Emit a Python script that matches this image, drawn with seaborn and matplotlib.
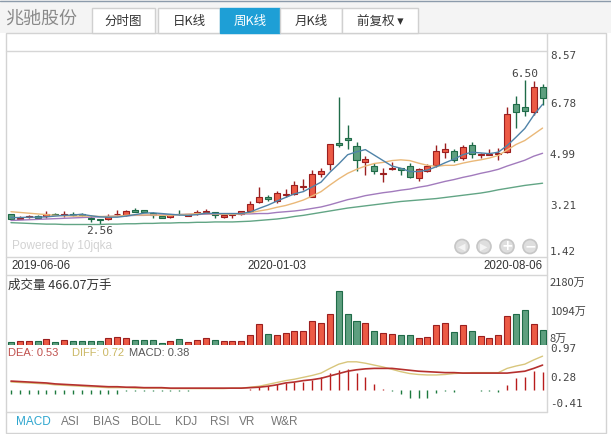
import numpy as np
import pandas as pd
import seaborn as sns
import matplotlib.pyplot as plt
from matplotlib.patches import Rectangle, Circle

sns.set_style("white")
plt.rcParams['font.family'] = ['Noto Sans CJK SC', 'DejaVu Sans']
plt.rcParams['axes.unicode_minus'] = False

# ---- weekly K-line data (前复权) ----
dates = ["2019-06-06", "2020-01-03", "2020-08-06"]
date_pos = [0, 30, 60]

opens = [2.83, 2.70, 2.75, 2.78, 2.78, 2.85, 2.80, 2.85, 2.85, 2.74, 2.69, 2.71, 2.83, 2.81, 2.94, 2.94,
         2.87, 2.77, 2.76, 2.84, 2.79, 2.83, 2.88, 2.90, 2.76, 2.80, 2.83, 2.92, 3.17, 3.29, 3.20, 3.35,
         3.38, 3.57, 3.31, 3.92, 4.20, 4.79, 4.92, 4.70, 4.27, 4.15, 3.92, 4.06, 4.09, 4.15, 3.81, 4.01,
         4.18, 4.54, 4.56, 4.36, 4.72, 4.44, 4.45, 4.48, 4.54, 5.84, 5.77, 5.62, 6.32]
highs = [2.85, 2.78, 2.81, 2.80, 2.91, 2.86, 2.91, 2.90, 2.87, 2.80, 2.71, 2.83, 2.94, 2.96, 3.00, 2.94,
         2.88, 2.78, 2.85, 2.94, 2.84, 2.94, 2.98, 2.90, 2.81, 2.85, 2.92, 3.18, 3.57, 3.35, 3.46, 3.53,
         3.75, 3.79, 4.04, 4.09, 4.75, 6.05, 5.27, 4.81, 4.42, 4.22, 4.09, 4.27, 4.11, 4.22, 4.09, 4.20,
         4.74, 4.77, 4.61, 4.74, 4.80, 4.51, 4.63, 4.65, 5.77, 6.07, 6.50, 6.48, 6.39]
lows = [2.69, 2.69, 2.73, 2.70, 2.73, 2.80, 2.76, 2.79, 2.77, 2.62, 2.56, 2.66, 2.78, 2.79, 2.88, 2.88,
        2.73, 2.72, 2.72, 2.80, 2.78, 2.81, 2.86, 2.74, 2.73, 2.72, 2.81, 2.90, 3.13, 3.20, 3.13, 3.31,
        3.35, 3.49, 3.29, 3.84, 4.03, 4.68, 4.63, 4.02, 3.90, 3.92, 3.72, 4.03, 3.90, 3.81, 3.74, 3.99,
        4.13, 4.36, 4.27, 4.31, 4.36, 4.36, 4.45, 4.31, 4.51, 5.18, 5.52, 5.55, 5.82]
closes = [2.71, 2.74, 2.78, 2.72, 2.85, 2.81, 2.85, 2.81, 2.81, 2.69, 2.66, 2.76, 2.85, 2.92, 2.90, 2.89,
          2.81, 2.73, 2.81, 2.83, 2.83, 2.89, 2.92, 2.80, 2.81, 2.83, 2.91, 3.11, 3.30, 3.24, 3.40, 3.38,
          3.62, 3.60, 3.92, 4.02, 4.75, 4.74, 4.86, 4.31, 4.33, 4.02, 3.97, 4.11, 4.04, 3.84, 4.06, 4.15,
          4.56, 4.61, 4.31, 4.68, 4.48, 4.49, 4.49, 4.52, 5.57, 5.64, 5.66, 6.32, 6.02]

ma5 = [2.74, 2.74, 2.75, 2.75, 2.76, 2.78, 2.80, 2.81, 2.83, 2.79, 2.76, 2.75, 2.75, 2.78, 2.82, 2.86,
       2.87, 2.85, 2.83, 2.81, 2.80, 2.82, 2.86, 2.85, 2.85, 2.85, 2.85, 2.89, 2.99, 3.08, 3.19, 3.29,
       3.39, 3.45, 3.58, 3.71, 3.98, 4.21, 4.46, 4.54, 4.60, 4.45, 4.30, 4.15, 4.09, 4.00, 4.00, 4.04,
       4.13, 4.24, 4.34, 4.46, 4.53, 4.51, 4.49, 4.53, 4.71, 4.94, 5.18, 5.54, 5.84]
ma10 = [2.90, 2.88, 2.86, 2.84, 2.82, 2.80, 2.79, 2.78, 2.78, 2.78, 2.77, 2.77, 2.78, 2.80, 2.81, 2.81,
        2.81, 2.80, 2.80, 2.82, 2.83, 2.85, 2.85, 2.84, 2.83, 2.83, 2.84, 2.87, 2.92, 2.96, 3.02, 3.07,
        3.14, 3.22, 3.33, 3.45, 3.63, 3.80, 3.95, 4.06, 4.15, 4.22, 4.25, 4.30, 4.32, 4.30, 4.23, 4.17,
        4.14, 4.17, 4.17, 4.23, 4.28, 4.32, 4.37, 4.44, 4.59, 4.74, 4.85, 5.02, 5.19]
ma30 = [2.66, 2.67, 2.68, 2.69, 2.70, 2.71, 2.72, 2.73, 2.74, 2.75, 2.76, 2.77, 2.78, 2.79, 2.80, 2.80,
        2.81, 2.81, 2.82, 2.82, 2.83, 2.83, 2.83, 2.84, 2.84, 2.84, 2.84, 2.84, 2.85, 2.85, 2.88, 2.90,
        2.92, 2.95, 2.99, 3.03, 3.09, 3.16, 3.23, 3.28, 3.34, 3.38, 3.42, 3.45, 3.49, 3.52, 3.57, 3.61,
        3.67, 3.73, 3.78, 3.84, 3.89, 3.95, 4.00, 4.06, 4.15, 4.23, 4.31, 4.42, 4.50]
ma60 = [2.60, 2.59, 2.58, 2.57, 2.56, 2.56, 2.55, 2.55, 2.55, 2.55, 2.55, 2.56, 2.56, 2.57, 2.57, 2.58,
        2.58, 2.59, 2.59, 2.60, 2.60, 2.61, 2.61, 2.62, 2.62, 2.62, 2.63, 2.64, 2.66, 2.68, 2.70, 2.73,
        2.77, 2.80, 2.84, 2.88, 2.92, 2.96, 3.00, 3.03, 3.06, 3.09, 3.12, 3.15, 3.18, 3.20, 3.22, 3.24,
        3.26, 3.29, 3.32, 3.35, 3.38, 3.41, 3.45, 3.50, 3.54, 3.58, 3.62, 3.65, 3.68]

# 成交量 (万手)
volume = [98, 108, 130, 108, 186, 98, 163, 130, 121, 130, 108, 228, 251, 228, 163, 140,
          140, 55, 108, 196, 98, 163, 228, 163, 108, 130, 130, 326, 685, 359, 303, 391,
          456, 434, 782, 694, 988, 1738, 988, 782, 717, 434, 391, 359, 326, 326, 228, 261,
          652, 717, 424, 652, 456, 293, 228, 326, 945, 1011, 1141, 685, 466.07]

# MACD
dea = [0.19, 0.18, 0.17, 0.16, 0.15, 0.13, 0.12, 0.11, 0.10, 0.09, 0.08, 0.07, 0.07, 0.06, 0.06, 0.05,
       0.05, 0.05, 0.04, 0.04, 0.04, 0.04, 0.04, 0.04, 0.04, 0.04, 0.04, 0.05, 0.06, 0.08, 0.11, 0.15,
       0.17, 0.20, 0.22, 0.25, 0.30, 0.35, 0.40, 0.43, 0.45, 0.46, 0.46, 0.46, 0.44, 0.42, 0.40, 0.39,
       0.38, 0.37, 0.37, 0.36, 0.36, 0.36, 0.36, 0.36, 0.36, 0.38, 0.40, 0.46, 0.53]
diff = [0.17, 0.16, 0.15, 0.14, 0.13, 0.11, 0.10, 0.09, 0.08, 0.07, 0.06, 0.05, 0.05, 0.05, 0.04, 0.04,
        0.04, 0.04, 0.03, 0.03, 0.03, 0.03, 0.03, 0.03, 0.03, 0.04, 0.04, 0.06, 0.08, 0.12, 0.16, 0.20,
        0.23, 0.27, 0.31, 0.36, 0.46, 0.55, 0.60, 0.60, 0.57, 0.53, 0.49, 0.44, 0.39, 0.35, 0.33, 0.32,
        0.32, 0.33, 0.35, 0.36, 0.37, 0.37, 0.37, 0.37, 0.46, 0.51, 0.55, 0.64, 0.72]
macd = [-0.09, -0.09, -0.09, -0.09, -0.09, -0.09, -0.09, -0.09, -0.09, -0.09, -0.09, -0.08, -0.08,
        -0.02, -0.02, -0.02, -0.02, -0.02, -0.02, -0.02, -0.02, -0.01, -0.01, -0.01, -0.01, 0.01, 0.01,
        0.02, 0.06, 0.09, 0.12, 0.14, 0.16, 0.16, 0.21, 0.27, 0.36, 0.43, 0.45, 0.36, 0.27, 0.12, 0.02,
        -0.03, -0.09, -0.16, -0.16, -0.16, -0.07, -0.02, -0.05, 0.01, -0.01, -0.03, -0.03, -0.05, 0.11,
        0.25, 0.28, 0.40, 0.38]

price_ticks = [8.57, 6.78, 4.99, 3.21, 1.42]
vol_ticks = [2180, 1094, 8]
macd_ticks = [0.97, 0.28, -0.41]
tabs = ["分时图", "日K线", "周K线", "月K线", "前复权 ▾"]
indicators = ["MACD", "ASI", "BIAS", "BOLL", "KDJ", "RSI", "VR", "W&R"]

df = pd.DataFrame({"i": np.arange(len(closes)), "open": opens, "high": highs, "low": lows,
                   "close": closes, "ma5": ma5, "ma10": ma10, "ma30": ma30, "ma60": ma60,
                   "vol": volume, "dea": dea, "diff": diff, "macd": macd})
up = df["close"] >= df["open"]

RED_F, RED_E = "#ec5a45", "#9b1f1f"
GRN_F, GRN_E = "#5e9f7f", "#1f6b48"
face = np.where(up, RED_F, GRN_F)
edge = np.where(up, RED_E, GRN_E)

W, H = 611, 434
fig = plt.figure(figsize=(W / 100, H / 100), dpi=100)


def rect(x0, y0, x1, y1):
    return [x0 / W, 1 - y1 / H, (x1 - x0) / W, (y1 - y0) / H]


# background / widget chrome, in pixel coords
bg = fig.add_axes([0, 0, 1, 1], zorder=0)
bg.set_xlim(0, W)
bg.set_ylim(H, 0)
bg.axis("off")
bg.add_patch(Rectangle((0, 0), W, 33, color="#f4f4f4", lw=0))
bg.plot([0, W], [0.5, 0.5], color="#8c9bab", lw=1)
bg.add_patch(Rectangle((6, 33), 600, 400, facecolor="white", edgecolor="#d3d3d3", lw=1))
bg.text(5, 19, "兆驰股份", fontsize=13, color="#8a8a8a", va="center", ha="left")
tab_x = [(92, 155), (158, 220), (220, 280), (280, 342), (342, 418)]
for (x0, x1), name in zip(tab_x, tabs):
    sel = name == "周K线"
    bg.add_patch(Rectangle((x0, 8), x1 - x0, 25, facecolor="#1e9fd6" if sel else "white",
                           edgecolor="#1e9fd6" if sel else "#d0d0d0", lw=1))
    bg.text((x0 + x1) / 2, 21, name, fontsize=9, ha="center", va="center",
            color="white" if sel else "#333333")
for y in [51, 257, 275, 412]:
    bg.plot([6, 547], [y, y], color="#d6d6d6", lw=1)
bg.plot([547, 547], [33, 412], color="#d6d6d6", lw=1)
bg.text(12, 246, "Powered by 10jqka", fontsize=8.5, color="#d2d2d2", va="center",
        family=["Liberation Sans"])
for cx, sym, c in [(462, "◀", "#f4f4f4"), (484, "▶", "#f4f4f4"), (507, "+", "white"), (530, "−", "white")]:
    bg.add_patch(Circle((cx, 246.5), 7, facecolor="#dedede", edgecolor="#c6c6c6", lw=1.2))
    bg.text(cx, 246.5, sym, fontsize=7 if sym in "◀▶" else 10, ha="center", va="center",
            color=c, fontweight="bold", family=["DejaVu Sans"])
bg.text(8, 285, "成交量 466.07万手", fontsize=9, color="#333333", va="center")
bg.text(8, 353, "DEA: 0.53", fontsize=8, color="#c0504d", va="center", family=["Liberation Sans"])
bg.text(72, 353, "DIFF: 0.72", fontsize=8, color="#cbb865", va="center", family=["Liberation Sans"])
bg.text(129, 353, "MACD: 0.38", fontsize=8, color="#555555", va="center", family=["Liberation Sans"])
ind_x = [16, 61, 93, 131, 175, 210, 239, 271]
for x, name in zip(ind_x, indicators):
    bg.text(x, 422, name, fontsize=8.5, va="center", family=["Liberation Sans"],
            color="#2fa6cf" if name == "MACD" else "#777777")

XL = (-0.56, 60.5)
mono = ["DejaVu Sans Mono"]

# ---- price panel ----
ax = fig.add_axes(rect(6, 51, 547, 257), zorder=2)
ax.patch.set_alpha(0)
ax.vlines(df["i"], df["low"], df["high"], colors=edge, lw=1, zorder=2)
ax.bar(df["i"], (df["close"] - df["open"]).abs(), bottom=df[["open", "close"]].min(axis=1),
       width=0.68, color=face, edgecolor=edge, linewidth=0.8, zorder=3)
for col, c in [("ma60", "#62a585"), ("ma30", "#a27bbd"), ("ma10", "#eab878"), ("ma5", "#4f83a8")]:
    sns.lineplot(data=df, x="i", y=col, ax=ax, color=c, lw=1, legend=False, zorder=4)
lo_i = int(np.argmin(lows))
hi_i = int(np.argmax(highs))
ax.annotate(f"{lows[lo_i]:.2f}", (lo_i, lows[lo_i]), xytext=(0, -1), textcoords="offset points",
            ha="center", va="top", fontsize=8, color="#444444", family=mono)
ax.annotate(f"{highs[hi_i]:.2f}", (hi_i, highs[hi_i]), xytext=(0, 1), textcoords="offset points",
            ha="center", va="bottom", fontsize=8, color="#444444", family=mono)
ax.set_xlim(*XL)
ax.set_ylim(1.66, 7.30)
ax.set_xticks(date_pos)
ax.set_xticklabels(dates, fontsize=8.3, color="#333333", family=["Liberation Sans"])
ax.get_xticklabels()[0].set_ha("left")
ax.get_xticklabels()[-1].set_ha("right")
ax.tick_params(axis="x", length=0, pad=2)
ax.set_yticks([])
ax.set_xlabel("")
ax.set_ylabel("")
for s in ax.spines.values():
    s.set_visible(False)

axr = ax.twinx()
axr.set_ylim(min(price_ticks), max(price_ticks))
axr.set_yticks(price_ticks)
axr.set_yticklabels([f"{t:.2f}" for t in price_ticks], fontsize=7.8, color="#444444", family=mono)
axr.tick_params(axis="y", length=0, pad=2)
axr.get_yticklabels()[0].set_va("top")
axr.get_yticklabels()[-1].set_va("bottom")
for s in axr.spines.values():
    s.set_visible(False)

# ---- volume panel ----
axv = fig.add_axes(rect(6, 278, 547, 344.5), zorder=2)
axv.patch.set_alpha(0)
axv.bar(df["i"], df["vol"], width=0.68, color=face, edgecolor=edge, linewidth=0.8)
axv.set_xlim(*XL)
axv.set_ylim(0, 2180)
axv.set_xticks([])
axv.yaxis.tick_right()
axv.set_yticks(vol_ticks)
axv.set_yticklabels([f"{t}万" for t in vol_ticks], fontsize=8, color="#444444")
axv.tick_params(axis="y", length=0, pad=2)
axv.get_yticklabels()[0].set_va("top")
axv.get_yticklabels()[-1].set_va("bottom")
for s in axv.spines.values():
    s.set_visible(False)

# ---- MACD panel ----
axm = fig.add_axes(rect(6, 344.4, 547, 409.3), zorder=2)
axm.patch.set_alpha(0)
axm.vlines(df["i"], 0, df["macd"], colors=np.where(df["macd"] >= 0, "#b81c1c", "#1d7a3e"), lw=1)
sns.lineplot(data=df, x="i", y="diff", ax=axm, color="#d8c67c", lw=1, legend=False)
sns.lineplot(data=df, x="i", y="dea", ax=axm, color="#b5302e", lw=1.2, legend=False)
axm.set_xlim(*XL)
axm.set_ylim(min(macd_ticks), max(macd_ticks))
axm.set_xticks([])
axm.set_xlabel("")
axm.set_ylabel("")
axm.yaxis.tick_right()
axm.set_yticks(macd_ticks)
axm.set_yticklabels([f"{t:.2f}" for t in macd_ticks], fontsize=7.8, color="#444444", family=mono)
axm.tick_params(axis="y", length=0, pad=2)
axm.get_yticklabels()[0].set_va("top")
axm.get_yticklabels()[-1].set_va("bottom")
for s in axm.spines.values():
    s.set_visible(False)

fig.savefig("out.png", dpi=100)
